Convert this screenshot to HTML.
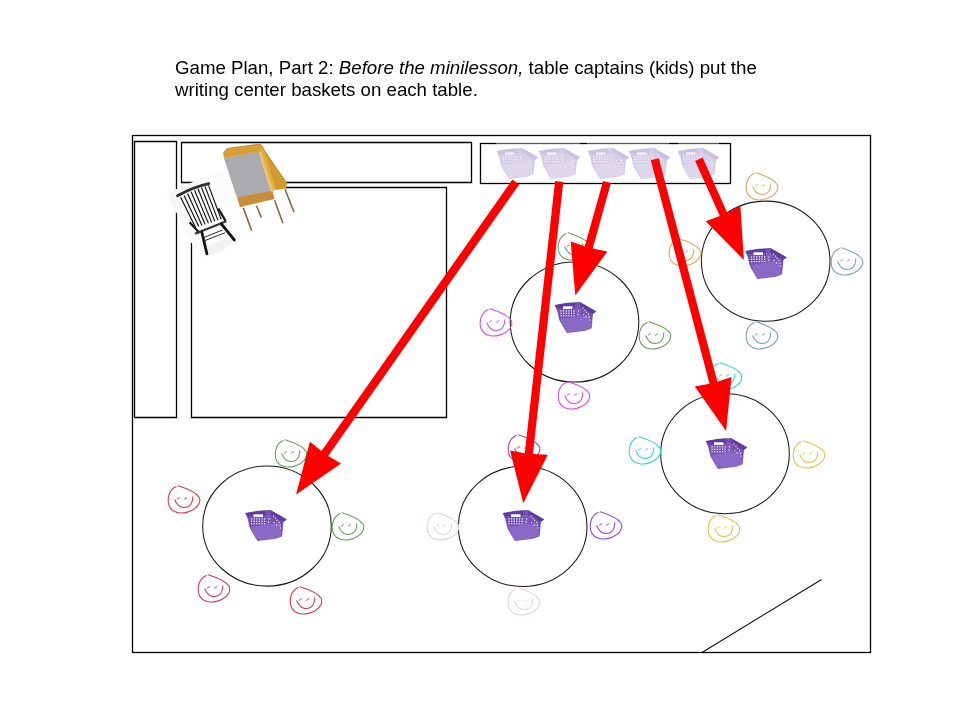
<!DOCTYPE html><html><head><meta charset="utf-8"><style>
html,body{margin:0;padding:0;background:#fff;width:960px;height:720px;overflow:hidden}
.t{position:absolute;will-change:transform;left:175px;top:56.5px;font-family:"Liberation Sans",sans-serif;font-size:18.67px;line-height:21.75px;color:#000;white-space:nowrap}
svg{position:absolute;left:0;top:0}
</style></head><body>
<div class="t">Game Plan, Part 2: <i>Before the minilesson,</i> table captains (kids) put the<br>writing center baskets on each table.</div>
<svg width="960" height="720" viewBox="0 0 960 720">
<g fill="none" stroke="#000" stroke-width="1.3">
<rect x="132.5" y="135.5" width="738" height="517"/>
<path d="M134.5,417.5 V141.5 H176.5 V189 M176.5,212 V417.5 H134.5"/>
<path d="M193,182.5 H181.5 V142.5 H471.5 V182.5 H286"/>
<path d="M191.5,242 V417.5 H446.5 V187.5 H286"/>
<rect x="480.5" y="143.5" width="250" height="40"/>
<line x1="702" y1="652.5" x2="821.5" y2="579.5" stroke="#111" stroke-width="1.1"/>
</g>
<g fill="none" stroke="#1a1a1a" stroke-width="1.05">
<ellipse cx="765.7" cy="261.2" rx="64.3" ry="60.1"/>
<ellipse cx="574.5" cy="322.0" rx="64.3" ry="60.1"/>
<ellipse cx="725.0" cy="453.6" rx="64.3" ry="60.1"/>
<ellipse cx="267.0" cy="526.0" rx="64.3" ry="60.1"/>
<ellipse cx="522.7" cy="526.4" rx="64.3" ry="60.1"/>
</g>
<g id="chair">
<defs><linearGradient id="cg" x1="0" y1="0" x2="1" y2="0.3"><stop offset="0" stop-color="#f2f2f2"/><stop offset="0.5" stop-color="#fbfbfb"/><stop offset="1" stop-color="#fff"/></linearGradient></defs><polygon fill="url(#cg)" points="166.8,193.4 233,164.3 264,228 200,260"/><ellipse cx="218" cy="247" rx="16" ry="5" fill="#f2f2f2" transform="rotate(-26 218 247)"/>
<path d="M177.5,195.8 Q193,187 208.8,183.6" stroke="#2e2e2e" stroke-width="2.8" fill="none" stroke-linecap="round"/>
<path d="M180.6,197.3 L195.6,227.5 M184.1,195.4 L198.8,226.5 M187.6,193.5 L202.0,225.5 M191.1,191.7 L205.2,224.5 M194.6,190.2 L208.4,223.4 M198.0,188.8 L211.6,222.4 M201.5,187.5 L214.8,221.4 M205.0,186.4 L218.0,220.4 M208.5,185.4 L221.2,219.4" stroke="#111" stroke-width="1.15" fill="none"/>
<path d="M189.6,222.3 L199.5,233 M218.3,208.5 L225.6,221" stroke="#1a1a1a" stroke-width="2.4" fill="none"/>
<path d="M195,233.8 L226.3,221.3" stroke="#333" stroke-width="2.2" fill="none"/>
<path d="M201.9,232.5 L206.9,253.8 M221.3,223.8 L234.4,240" stroke="#151515" stroke-width="2.8" fill="none" stroke-linecap="round"/>
<path d="M203.8,237.5 L222.5,230 M205,240.5 L225,232.8" stroke="#2a2a2a" stroke-width="1" fill="none"/>
</g>
<g id="easel">
<path d="M243.3,207.9 L251.7,230.8 M256.5,205.8 L261.4,217.6 M274.6,200.3 L282.9,223.2 M285,189.2 L294,212.1" stroke="#8a6a42" stroke-width="1.6" fill="none"/>
<polygon fill="#d49a2e" points="260,144 287.1,183.6 285.7,188.5 275.3,189.9 258.6,151.7"/>
<polygon fill="#e3ad3c" points="260,144 263,146 276,189.5 273,190 258.6,151.7"/>
<polygon fill="#a9abaf" points="223.9,157.9 258.6,151.7 271.1,191.9 237.1,198.2"/>
<polygon fill="#d99f34" points="223.2,153.1 227,148.5 260,144 261.4,151.7 223.9,157.9"/>
<polygon fill="#c98d38" points="237.1,197.5 272.5,190.6 274.6,198.9 239.9,207.2"/>
<polygon fill="#e8c070" points="258.6,151.7 261.4,151.7 274,191 271.1,191.9"/>
<path d="M223.2,153.1 L227,148.5 L260,144 L287.1,183.6" stroke="#b98226" stroke-width="0.8" fill="none"/>
</g>
<rect x="496" y="142" width="84" height="3" fill="#fff" fill-opacity="0.35"/>
<rect x="587" y="142" width="82" height="3" fill="#fff" fill-opacity="0.35"/>
<rect x="678.5" y="142" width="40.5" height="3" fill="#fff" fill-opacity="0.35"/>
<g transform="translate(497.0,148.0)"><polygon fill="#d6cee7" stroke="#c6bcdc" stroke-width="0.6" points="0.1,3.3 13.1,1.1 25.3,0.6 40.9,9.4 37.6,11.7 36.2,26.1 30.3,28.3 12,30.6 4.8,18.3 2.6,8.9"/><polygon fill="#ddd6ec" points="5,17 22,14.5 34,13 36.2,26.1 30.3,28.3 12,30.6"/><polygon fill="#cbc2df" points="0.1,3.3 13.1,1.1 25.3,0.6 40.9,9.4 37.6,11.7 25,5 3,6.5"/><polygon fill="#ddd6ec" opacity="0.5" points="20,1 25.3,0.6 26,15 21,16"/><rect x="8" y="4.3" width="9.5" height="2.6" fill="#f0edf7"/><rect x="5.5" y="8.3" width="1.2" height="1.2" fill="#f0edf7"/><rect x="8.1" y="8.3" width="1.2" height="1.2" fill="#f0edf7"/><rect x="10.7" y="8.3" width="1.2" height="1.2" fill="#f0edf7"/><rect x="13.3" y="8.3" width="1.2" height="1.2" fill="#f0edf7"/><rect x="15.9" y="8.3" width="1.2" height="1.2" fill="#f0edf7"/><rect x="18.5" y="8.3" width="1.2" height="1.2" fill="#f0edf7"/><rect x="5.5" y="10.7" width="1.2" height="1.2" fill="#f0edf7"/><rect x="8.1" y="10.7" width="1.2" height="1.2" fill="#f0edf7"/><rect x="10.7" y="10.7" width="1.2" height="1.2" fill="#f0edf7"/><rect x="13.3" y="10.7" width="1.2" height="1.2" fill="#f0edf7"/><rect x="15.9" y="10.7" width="1.2" height="1.2" fill="#f0edf7"/><rect x="18.5" y="10.7" width="1.2" height="1.2" fill="#f0edf7"/><rect x="5.5" y="13.1" width="1.2" height="1.2" fill="#f0edf7"/><rect x="8.1" y="13.1" width="1.2" height="1.2" fill="#f0edf7"/><rect x="10.7" y="13.1" width="1.2" height="1.2" fill="#f0edf7"/><rect x="13.3" y="13.1" width="1.2" height="1.2" fill="#f0edf7"/><rect x="15.9" y="13.1" width="1.2" height="1.2" fill="#f0edf7"/><rect x="18.5" y="13.1" width="1.2" height="1.2" fill="#f0edf7"/><rect x="27.5" y="5.5" width="1.1" height="1.1" fill="#f0edf7"/><rect x="29.5" y="7.5" width="1.1" height="1.1" fill="#f0edf7"/><rect x="31.0" y="9.8" width="1.1" height="1.1" fill="#f0edf7"/><rect x="33.0" y="11.8" width="1.1" height="1.1" fill="#f0edf7"/><rect x="34.0" y="14.5" width="1.1" height="1.1" fill="#f0edf7"/><rect x="34.5" y="17.5" width="1.1" height="1.1" fill="#f0edf7"/><rect x="30.5" y="14.5" width="1.1" height="1.1" fill="#f0edf7"/><rect x="28.0" y="12.0" width="1.1" height="1.1" fill="#f0edf7"/><rect x="23.0" y="8.5" width="1.1" height="1.1" fill="#f0edf7"/><rect x="22.5" y="11.5" width="1.1" height="1.1" fill="#f0edf7"/></g>
<g transform="translate(539.0,148.0)"><polygon fill="#d6cee7" stroke="#c6bcdc" stroke-width="0.6" points="0.1,3.3 13.1,1.1 25.3,0.6 40.9,9.4 37.6,11.7 36.2,26.1 30.3,28.3 12,30.6 4.8,18.3 2.6,8.9"/><polygon fill="#ddd6ec" points="5,17 22,14.5 34,13 36.2,26.1 30.3,28.3 12,30.6"/><polygon fill="#cbc2df" points="0.1,3.3 13.1,1.1 25.3,0.6 40.9,9.4 37.6,11.7 25,5 3,6.5"/><polygon fill="#ddd6ec" opacity="0.5" points="20,1 25.3,0.6 26,15 21,16"/><rect x="8" y="4.3" width="9.5" height="2.6" fill="#f0edf7"/><rect x="5.5" y="8.3" width="1.2" height="1.2" fill="#f0edf7"/><rect x="8.1" y="8.3" width="1.2" height="1.2" fill="#f0edf7"/><rect x="10.7" y="8.3" width="1.2" height="1.2" fill="#f0edf7"/><rect x="13.3" y="8.3" width="1.2" height="1.2" fill="#f0edf7"/><rect x="15.9" y="8.3" width="1.2" height="1.2" fill="#f0edf7"/><rect x="18.5" y="8.3" width="1.2" height="1.2" fill="#f0edf7"/><rect x="5.5" y="10.7" width="1.2" height="1.2" fill="#f0edf7"/><rect x="8.1" y="10.7" width="1.2" height="1.2" fill="#f0edf7"/><rect x="10.7" y="10.7" width="1.2" height="1.2" fill="#f0edf7"/><rect x="13.3" y="10.7" width="1.2" height="1.2" fill="#f0edf7"/><rect x="15.9" y="10.7" width="1.2" height="1.2" fill="#f0edf7"/><rect x="18.5" y="10.7" width="1.2" height="1.2" fill="#f0edf7"/><rect x="5.5" y="13.1" width="1.2" height="1.2" fill="#f0edf7"/><rect x="8.1" y="13.1" width="1.2" height="1.2" fill="#f0edf7"/><rect x="10.7" y="13.1" width="1.2" height="1.2" fill="#f0edf7"/><rect x="13.3" y="13.1" width="1.2" height="1.2" fill="#f0edf7"/><rect x="15.9" y="13.1" width="1.2" height="1.2" fill="#f0edf7"/><rect x="18.5" y="13.1" width="1.2" height="1.2" fill="#f0edf7"/><rect x="27.5" y="5.5" width="1.1" height="1.1" fill="#f0edf7"/><rect x="29.5" y="7.5" width="1.1" height="1.1" fill="#f0edf7"/><rect x="31.0" y="9.8" width="1.1" height="1.1" fill="#f0edf7"/><rect x="33.0" y="11.8" width="1.1" height="1.1" fill="#f0edf7"/><rect x="34.0" y="14.5" width="1.1" height="1.1" fill="#f0edf7"/><rect x="34.5" y="17.5" width="1.1" height="1.1" fill="#f0edf7"/><rect x="30.5" y="14.5" width="1.1" height="1.1" fill="#f0edf7"/><rect x="28.0" y="12.0" width="1.1" height="1.1" fill="#f0edf7"/><rect x="23.0" y="8.5" width="1.1" height="1.1" fill="#f0edf7"/><rect x="22.5" y="11.5" width="1.1" height="1.1" fill="#f0edf7"/></g>
<g transform="translate(588.0,148.0)"><polygon fill="#d6cee7" stroke="#c6bcdc" stroke-width="0.6" points="0.1,3.3 13.1,1.1 25.3,0.6 40.9,9.4 37.6,11.7 36.2,26.1 30.3,28.3 12,30.6 4.8,18.3 2.6,8.9"/><polygon fill="#ddd6ec" points="5,17 22,14.5 34,13 36.2,26.1 30.3,28.3 12,30.6"/><polygon fill="#cbc2df" points="0.1,3.3 13.1,1.1 25.3,0.6 40.9,9.4 37.6,11.7 25,5 3,6.5"/><polygon fill="#ddd6ec" opacity="0.5" points="20,1 25.3,0.6 26,15 21,16"/><rect x="8" y="4.3" width="9.5" height="2.6" fill="#f0edf7"/><rect x="5.5" y="8.3" width="1.2" height="1.2" fill="#f0edf7"/><rect x="8.1" y="8.3" width="1.2" height="1.2" fill="#f0edf7"/><rect x="10.7" y="8.3" width="1.2" height="1.2" fill="#f0edf7"/><rect x="13.3" y="8.3" width="1.2" height="1.2" fill="#f0edf7"/><rect x="15.9" y="8.3" width="1.2" height="1.2" fill="#f0edf7"/><rect x="18.5" y="8.3" width="1.2" height="1.2" fill="#f0edf7"/><rect x="5.5" y="10.7" width="1.2" height="1.2" fill="#f0edf7"/><rect x="8.1" y="10.7" width="1.2" height="1.2" fill="#f0edf7"/><rect x="10.7" y="10.7" width="1.2" height="1.2" fill="#f0edf7"/><rect x="13.3" y="10.7" width="1.2" height="1.2" fill="#f0edf7"/><rect x="15.9" y="10.7" width="1.2" height="1.2" fill="#f0edf7"/><rect x="18.5" y="10.7" width="1.2" height="1.2" fill="#f0edf7"/><rect x="5.5" y="13.1" width="1.2" height="1.2" fill="#f0edf7"/><rect x="8.1" y="13.1" width="1.2" height="1.2" fill="#f0edf7"/><rect x="10.7" y="13.1" width="1.2" height="1.2" fill="#f0edf7"/><rect x="13.3" y="13.1" width="1.2" height="1.2" fill="#f0edf7"/><rect x="15.9" y="13.1" width="1.2" height="1.2" fill="#f0edf7"/><rect x="18.5" y="13.1" width="1.2" height="1.2" fill="#f0edf7"/><rect x="27.5" y="5.5" width="1.1" height="1.1" fill="#f0edf7"/><rect x="29.5" y="7.5" width="1.1" height="1.1" fill="#f0edf7"/><rect x="31.0" y="9.8" width="1.1" height="1.1" fill="#f0edf7"/><rect x="33.0" y="11.8" width="1.1" height="1.1" fill="#f0edf7"/><rect x="34.0" y="14.5" width="1.1" height="1.1" fill="#f0edf7"/><rect x="34.5" y="17.5" width="1.1" height="1.1" fill="#f0edf7"/><rect x="30.5" y="14.5" width="1.1" height="1.1" fill="#f0edf7"/><rect x="28.0" y="12.0" width="1.1" height="1.1" fill="#f0edf7"/><rect x="23.0" y="8.5" width="1.1" height="1.1" fill="#f0edf7"/><rect x="22.5" y="11.5" width="1.1" height="1.1" fill="#f0edf7"/></g>
<g transform="translate(629.0,148.0)"><polygon fill="#d6cee7" stroke="#c6bcdc" stroke-width="0.6" points="0.1,3.3 13.1,1.1 25.3,0.6 40.9,9.4 37.6,11.7 36.2,26.1 30.3,28.3 12,30.6 4.8,18.3 2.6,8.9"/><polygon fill="#ddd6ec" points="5,17 22,14.5 34,13 36.2,26.1 30.3,28.3 12,30.6"/><polygon fill="#cbc2df" points="0.1,3.3 13.1,1.1 25.3,0.6 40.9,9.4 37.6,11.7 25,5 3,6.5"/><polygon fill="#ddd6ec" opacity="0.5" points="20,1 25.3,0.6 26,15 21,16"/><rect x="8" y="4.3" width="9.5" height="2.6" fill="#f0edf7"/><rect x="5.5" y="8.3" width="1.2" height="1.2" fill="#f0edf7"/><rect x="8.1" y="8.3" width="1.2" height="1.2" fill="#f0edf7"/><rect x="10.7" y="8.3" width="1.2" height="1.2" fill="#f0edf7"/><rect x="13.3" y="8.3" width="1.2" height="1.2" fill="#f0edf7"/><rect x="15.9" y="8.3" width="1.2" height="1.2" fill="#f0edf7"/><rect x="18.5" y="8.3" width="1.2" height="1.2" fill="#f0edf7"/><rect x="5.5" y="10.7" width="1.2" height="1.2" fill="#f0edf7"/><rect x="8.1" y="10.7" width="1.2" height="1.2" fill="#f0edf7"/><rect x="10.7" y="10.7" width="1.2" height="1.2" fill="#f0edf7"/><rect x="13.3" y="10.7" width="1.2" height="1.2" fill="#f0edf7"/><rect x="15.9" y="10.7" width="1.2" height="1.2" fill="#f0edf7"/><rect x="18.5" y="10.7" width="1.2" height="1.2" fill="#f0edf7"/><rect x="5.5" y="13.1" width="1.2" height="1.2" fill="#f0edf7"/><rect x="8.1" y="13.1" width="1.2" height="1.2" fill="#f0edf7"/><rect x="10.7" y="13.1" width="1.2" height="1.2" fill="#f0edf7"/><rect x="13.3" y="13.1" width="1.2" height="1.2" fill="#f0edf7"/><rect x="15.9" y="13.1" width="1.2" height="1.2" fill="#f0edf7"/><rect x="18.5" y="13.1" width="1.2" height="1.2" fill="#f0edf7"/><rect x="27.5" y="5.5" width="1.1" height="1.1" fill="#f0edf7"/><rect x="29.5" y="7.5" width="1.1" height="1.1" fill="#f0edf7"/><rect x="31.0" y="9.8" width="1.1" height="1.1" fill="#f0edf7"/><rect x="33.0" y="11.8" width="1.1" height="1.1" fill="#f0edf7"/><rect x="34.0" y="14.5" width="1.1" height="1.1" fill="#f0edf7"/><rect x="34.5" y="17.5" width="1.1" height="1.1" fill="#f0edf7"/><rect x="30.5" y="14.5" width="1.1" height="1.1" fill="#f0edf7"/><rect x="28.0" y="12.0" width="1.1" height="1.1" fill="#f0edf7"/><rect x="23.0" y="8.5" width="1.1" height="1.1" fill="#f0edf7"/><rect x="22.5" y="11.5" width="1.1" height="1.1" fill="#f0edf7"/></g>
<g transform="translate(678.0,148.0)"><polygon fill="#d6cee7" stroke="#c6bcdc" stroke-width="0.6" points="0.1,3.3 13.1,1.1 25.3,0.6 40.9,9.4 37.6,11.7 36.2,26.1 30.3,28.3 12,30.6 4.8,18.3 2.6,8.9"/><polygon fill="#ddd6ec" points="5,17 22,14.5 34,13 36.2,26.1 30.3,28.3 12,30.6"/><polygon fill="#cbc2df" points="0.1,3.3 13.1,1.1 25.3,0.6 40.9,9.4 37.6,11.7 25,5 3,6.5"/><polygon fill="#ddd6ec" opacity="0.5" points="20,1 25.3,0.6 26,15 21,16"/><rect x="8" y="4.3" width="9.5" height="2.6" fill="#f0edf7"/><rect x="5.5" y="8.3" width="1.2" height="1.2" fill="#f0edf7"/><rect x="8.1" y="8.3" width="1.2" height="1.2" fill="#f0edf7"/><rect x="10.7" y="8.3" width="1.2" height="1.2" fill="#f0edf7"/><rect x="13.3" y="8.3" width="1.2" height="1.2" fill="#f0edf7"/><rect x="15.9" y="8.3" width="1.2" height="1.2" fill="#f0edf7"/><rect x="18.5" y="8.3" width="1.2" height="1.2" fill="#f0edf7"/><rect x="5.5" y="10.7" width="1.2" height="1.2" fill="#f0edf7"/><rect x="8.1" y="10.7" width="1.2" height="1.2" fill="#f0edf7"/><rect x="10.7" y="10.7" width="1.2" height="1.2" fill="#f0edf7"/><rect x="13.3" y="10.7" width="1.2" height="1.2" fill="#f0edf7"/><rect x="15.9" y="10.7" width="1.2" height="1.2" fill="#f0edf7"/><rect x="18.5" y="10.7" width="1.2" height="1.2" fill="#f0edf7"/><rect x="5.5" y="13.1" width="1.2" height="1.2" fill="#f0edf7"/><rect x="8.1" y="13.1" width="1.2" height="1.2" fill="#f0edf7"/><rect x="10.7" y="13.1" width="1.2" height="1.2" fill="#f0edf7"/><rect x="13.3" y="13.1" width="1.2" height="1.2" fill="#f0edf7"/><rect x="15.9" y="13.1" width="1.2" height="1.2" fill="#f0edf7"/><rect x="18.5" y="13.1" width="1.2" height="1.2" fill="#f0edf7"/><rect x="27.5" y="5.5" width="1.1" height="1.1" fill="#f0edf7"/><rect x="29.5" y="7.5" width="1.1" height="1.1" fill="#f0edf7"/><rect x="31.0" y="9.8" width="1.1" height="1.1" fill="#f0edf7"/><rect x="33.0" y="11.8" width="1.1" height="1.1" fill="#f0edf7"/><rect x="34.0" y="14.5" width="1.1" height="1.1" fill="#f0edf7"/><rect x="34.5" y="17.5" width="1.1" height="1.1" fill="#f0edf7"/><rect x="30.5" y="14.5" width="1.1" height="1.1" fill="#f0edf7"/><rect x="28.0" y="12.0" width="1.1" height="1.1" fill="#f0edf7"/><rect x="23.0" y="8.5" width="1.1" height="1.1" fill="#f0edf7"/><rect x="22.5" y="11.5" width="1.1" height="1.1" fill="#f0edf7"/></g>
<g transform="translate(745.5,248.0)"><polygon fill="#7653b4" stroke="#5a3896" stroke-width="0.6" points="0.1,3.3 13.1,1.1 25.3,0.6 40.9,9.4 37.6,11.7 36.2,26.1 30.3,28.3 12,30.6 4.8,18.3 2.6,8.9"/><polygon fill="#8a69c6" points="5,17 22,14.5 34,13 36.2,26.1 30.3,28.3 12,30.6"/><polygon fill="#603c9e" points="0.1,3.3 13.1,1.1 25.3,0.6 40.9,9.4 37.6,11.7 25,5 3,6.5"/><polygon fill="#8a69c6" opacity="0.5" points="20,1 25.3,0.6 26,15 21,16"/><rect x="8" y="4.3" width="9.5" height="2.6" fill="#ffffff"/><rect x="5.5" y="8.3" width="1.2" height="1.2" fill="#ffffff"/><rect x="8.1" y="8.3" width="1.2" height="1.2" fill="#ffffff"/><rect x="10.7" y="8.3" width="1.2" height="1.2" fill="#ffffff"/><rect x="13.3" y="8.3" width="1.2" height="1.2" fill="#ffffff"/><rect x="15.9" y="8.3" width="1.2" height="1.2" fill="#ffffff"/><rect x="18.5" y="8.3" width="1.2" height="1.2" fill="#ffffff"/><rect x="5.5" y="10.7" width="1.2" height="1.2" fill="#ffffff"/><rect x="8.1" y="10.7" width="1.2" height="1.2" fill="#ffffff"/><rect x="10.7" y="10.7" width="1.2" height="1.2" fill="#ffffff"/><rect x="13.3" y="10.7" width="1.2" height="1.2" fill="#ffffff"/><rect x="15.9" y="10.7" width="1.2" height="1.2" fill="#ffffff"/><rect x="18.5" y="10.7" width="1.2" height="1.2" fill="#ffffff"/><rect x="5.5" y="13.1" width="1.2" height="1.2" fill="#ffffff"/><rect x="8.1" y="13.1" width="1.2" height="1.2" fill="#ffffff"/><rect x="10.7" y="13.1" width="1.2" height="1.2" fill="#ffffff"/><rect x="13.3" y="13.1" width="1.2" height="1.2" fill="#ffffff"/><rect x="15.9" y="13.1" width="1.2" height="1.2" fill="#ffffff"/><rect x="18.5" y="13.1" width="1.2" height="1.2" fill="#ffffff"/><rect x="27.5" y="5.5" width="1.1" height="1.1" fill="#ffffff"/><rect x="29.5" y="7.5" width="1.1" height="1.1" fill="#ffffff"/><rect x="31.0" y="9.8" width="1.1" height="1.1" fill="#ffffff"/><rect x="33.0" y="11.8" width="1.1" height="1.1" fill="#ffffff"/><rect x="34.0" y="14.5" width="1.1" height="1.1" fill="#ffffff"/><rect x="34.5" y="17.5" width="1.1" height="1.1" fill="#ffffff"/><rect x="30.5" y="14.5" width="1.1" height="1.1" fill="#ffffff"/><rect x="28.0" y="12.0" width="1.1" height="1.1" fill="#ffffff"/><rect x="23.0" y="8.5" width="1.1" height="1.1" fill="#ffffff"/><rect x="22.5" y="11.5" width="1.1" height="1.1" fill="#ffffff"/></g>
<g transform="translate(555.0,302.0)"><polygon fill="#7653b4" stroke="#5a3896" stroke-width="0.6" points="0.1,3.3 13.1,1.1 25.3,0.6 40.9,9.4 37.6,11.7 36.2,26.1 30.3,28.3 12,30.6 4.8,18.3 2.6,8.9"/><polygon fill="#8a69c6" points="5,17 22,14.5 34,13 36.2,26.1 30.3,28.3 12,30.6"/><polygon fill="#603c9e" points="0.1,3.3 13.1,1.1 25.3,0.6 40.9,9.4 37.6,11.7 25,5 3,6.5"/><polygon fill="#8a69c6" opacity="0.5" points="20,1 25.3,0.6 26,15 21,16"/><rect x="8" y="4.3" width="9.5" height="2.6" fill="#ffffff"/><rect x="5.5" y="8.3" width="1.2" height="1.2" fill="#ffffff"/><rect x="8.1" y="8.3" width="1.2" height="1.2" fill="#ffffff"/><rect x="10.7" y="8.3" width="1.2" height="1.2" fill="#ffffff"/><rect x="13.3" y="8.3" width="1.2" height="1.2" fill="#ffffff"/><rect x="15.9" y="8.3" width="1.2" height="1.2" fill="#ffffff"/><rect x="18.5" y="8.3" width="1.2" height="1.2" fill="#ffffff"/><rect x="5.5" y="10.7" width="1.2" height="1.2" fill="#ffffff"/><rect x="8.1" y="10.7" width="1.2" height="1.2" fill="#ffffff"/><rect x="10.7" y="10.7" width="1.2" height="1.2" fill="#ffffff"/><rect x="13.3" y="10.7" width="1.2" height="1.2" fill="#ffffff"/><rect x="15.9" y="10.7" width="1.2" height="1.2" fill="#ffffff"/><rect x="18.5" y="10.7" width="1.2" height="1.2" fill="#ffffff"/><rect x="5.5" y="13.1" width="1.2" height="1.2" fill="#ffffff"/><rect x="8.1" y="13.1" width="1.2" height="1.2" fill="#ffffff"/><rect x="10.7" y="13.1" width="1.2" height="1.2" fill="#ffffff"/><rect x="13.3" y="13.1" width="1.2" height="1.2" fill="#ffffff"/><rect x="15.9" y="13.1" width="1.2" height="1.2" fill="#ffffff"/><rect x="18.5" y="13.1" width="1.2" height="1.2" fill="#ffffff"/><rect x="27.5" y="5.5" width="1.1" height="1.1" fill="#ffffff"/><rect x="29.5" y="7.5" width="1.1" height="1.1" fill="#ffffff"/><rect x="31.0" y="9.8" width="1.1" height="1.1" fill="#ffffff"/><rect x="33.0" y="11.8" width="1.1" height="1.1" fill="#ffffff"/><rect x="34.0" y="14.5" width="1.1" height="1.1" fill="#ffffff"/><rect x="34.5" y="17.5" width="1.1" height="1.1" fill="#ffffff"/><rect x="30.5" y="14.5" width="1.1" height="1.1" fill="#ffffff"/><rect x="28.0" y="12.0" width="1.1" height="1.1" fill="#ffffff"/><rect x="23.0" y="8.5" width="1.1" height="1.1" fill="#ffffff"/><rect x="22.5" y="11.5" width="1.1" height="1.1" fill="#ffffff"/></g>
<g transform="translate(706.0,438.0)"><polygon fill="#7653b4" stroke="#5a3896" stroke-width="0.6" points="0.1,3.3 13.1,1.1 25.3,0.6 40.9,9.4 37.6,11.7 36.2,26.1 30.3,28.3 12,30.6 4.8,18.3 2.6,8.9"/><polygon fill="#8a69c6" points="5,17 22,14.5 34,13 36.2,26.1 30.3,28.3 12,30.6"/><polygon fill="#603c9e" points="0.1,3.3 13.1,1.1 25.3,0.6 40.9,9.4 37.6,11.7 25,5 3,6.5"/><polygon fill="#8a69c6" opacity="0.5" points="20,1 25.3,0.6 26,15 21,16"/><rect x="8" y="4.3" width="9.5" height="2.6" fill="#ffffff"/><rect x="5.5" y="8.3" width="1.2" height="1.2" fill="#ffffff"/><rect x="8.1" y="8.3" width="1.2" height="1.2" fill="#ffffff"/><rect x="10.7" y="8.3" width="1.2" height="1.2" fill="#ffffff"/><rect x="13.3" y="8.3" width="1.2" height="1.2" fill="#ffffff"/><rect x="15.9" y="8.3" width="1.2" height="1.2" fill="#ffffff"/><rect x="18.5" y="8.3" width="1.2" height="1.2" fill="#ffffff"/><rect x="5.5" y="10.7" width="1.2" height="1.2" fill="#ffffff"/><rect x="8.1" y="10.7" width="1.2" height="1.2" fill="#ffffff"/><rect x="10.7" y="10.7" width="1.2" height="1.2" fill="#ffffff"/><rect x="13.3" y="10.7" width="1.2" height="1.2" fill="#ffffff"/><rect x="15.9" y="10.7" width="1.2" height="1.2" fill="#ffffff"/><rect x="18.5" y="10.7" width="1.2" height="1.2" fill="#ffffff"/><rect x="5.5" y="13.1" width="1.2" height="1.2" fill="#ffffff"/><rect x="8.1" y="13.1" width="1.2" height="1.2" fill="#ffffff"/><rect x="10.7" y="13.1" width="1.2" height="1.2" fill="#ffffff"/><rect x="13.3" y="13.1" width="1.2" height="1.2" fill="#ffffff"/><rect x="15.9" y="13.1" width="1.2" height="1.2" fill="#ffffff"/><rect x="18.5" y="13.1" width="1.2" height="1.2" fill="#ffffff"/><rect x="27.5" y="5.5" width="1.1" height="1.1" fill="#ffffff"/><rect x="29.5" y="7.5" width="1.1" height="1.1" fill="#ffffff"/><rect x="31.0" y="9.8" width="1.1" height="1.1" fill="#ffffff"/><rect x="33.0" y="11.8" width="1.1" height="1.1" fill="#ffffff"/><rect x="34.0" y="14.5" width="1.1" height="1.1" fill="#ffffff"/><rect x="34.5" y="17.5" width="1.1" height="1.1" fill="#ffffff"/><rect x="30.5" y="14.5" width="1.1" height="1.1" fill="#ffffff"/><rect x="28.0" y="12.0" width="1.1" height="1.1" fill="#ffffff"/><rect x="23.0" y="8.5" width="1.1" height="1.1" fill="#ffffff"/><rect x="22.5" y="11.5" width="1.1" height="1.1" fill="#ffffff"/></g>
<g transform="translate(245.5,510.0)"><polygon fill="#7653b4" stroke="#5a3896" stroke-width="0.6" points="0.1,3.3 13.1,1.1 25.3,0.6 40.9,9.4 37.6,11.7 36.2,26.1 30.3,28.3 12,30.6 4.8,18.3 2.6,8.9"/><polygon fill="#8a69c6" points="5,17 22,14.5 34,13 36.2,26.1 30.3,28.3 12,30.6"/><polygon fill="#603c9e" points="0.1,3.3 13.1,1.1 25.3,0.6 40.9,9.4 37.6,11.7 25,5 3,6.5"/><polygon fill="#8a69c6" opacity="0.5" points="20,1 25.3,0.6 26,15 21,16"/><rect x="8" y="4.3" width="9.5" height="2.6" fill="#ffffff"/><rect x="5.5" y="8.3" width="1.2" height="1.2" fill="#ffffff"/><rect x="8.1" y="8.3" width="1.2" height="1.2" fill="#ffffff"/><rect x="10.7" y="8.3" width="1.2" height="1.2" fill="#ffffff"/><rect x="13.3" y="8.3" width="1.2" height="1.2" fill="#ffffff"/><rect x="15.9" y="8.3" width="1.2" height="1.2" fill="#ffffff"/><rect x="18.5" y="8.3" width="1.2" height="1.2" fill="#ffffff"/><rect x="5.5" y="10.7" width="1.2" height="1.2" fill="#ffffff"/><rect x="8.1" y="10.7" width="1.2" height="1.2" fill="#ffffff"/><rect x="10.7" y="10.7" width="1.2" height="1.2" fill="#ffffff"/><rect x="13.3" y="10.7" width="1.2" height="1.2" fill="#ffffff"/><rect x="15.9" y="10.7" width="1.2" height="1.2" fill="#ffffff"/><rect x="18.5" y="10.7" width="1.2" height="1.2" fill="#ffffff"/><rect x="5.5" y="13.1" width="1.2" height="1.2" fill="#ffffff"/><rect x="8.1" y="13.1" width="1.2" height="1.2" fill="#ffffff"/><rect x="10.7" y="13.1" width="1.2" height="1.2" fill="#ffffff"/><rect x="13.3" y="13.1" width="1.2" height="1.2" fill="#ffffff"/><rect x="15.9" y="13.1" width="1.2" height="1.2" fill="#ffffff"/><rect x="18.5" y="13.1" width="1.2" height="1.2" fill="#ffffff"/><rect x="27.5" y="5.5" width="1.1" height="1.1" fill="#ffffff"/><rect x="29.5" y="7.5" width="1.1" height="1.1" fill="#ffffff"/><rect x="31.0" y="9.8" width="1.1" height="1.1" fill="#ffffff"/><rect x="33.0" y="11.8" width="1.1" height="1.1" fill="#ffffff"/><rect x="34.0" y="14.5" width="1.1" height="1.1" fill="#ffffff"/><rect x="34.5" y="17.5" width="1.1" height="1.1" fill="#ffffff"/><rect x="30.5" y="14.5" width="1.1" height="1.1" fill="#ffffff"/><rect x="28.0" y="12.0" width="1.1" height="1.1" fill="#ffffff"/><rect x="23.0" y="8.5" width="1.1" height="1.1" fill="#ffffff"/><rect x="22.5" y="11.5" width="1.1" height="1.1" fill="#ffffff"/></g>
<g transform="translate(503.0,510.0)"><polygon fill="#7653b4" stroke="#5a3896" stroke-width="0.6" points="0.1,3.3 13.1,1.1 25.3,0.6 40.9,9.4 37.6,11.7 36.2,26.1 30.3,28.3 12,30.6 4.8,18.3 2.6,8.9"/><polygon fill="#8a69c6" points="5,17 22,14.5 34,13 36.2,26.1 30.3,28.3 12,30.6"/><polygon fill="#603c9e" points="0.1,3.3 13.1,1.1 25.3,0.6 40.9,9.4 37.6,11.7 25,5 3,6.5"/><polygon fill="#8a69c6" opacity="0.5" points="20,1 25.3,0.6 26,15 21,16"/><rect x="8" y="4.3" width="9.5" height="2.6" fill="#ffffff"/><rect x="5.5" y="8.3" width="1.2" height="1.2" fill="#ffffff"/><rect x="8.1" y="8.3" width="1.2" height="1.2" fill="#ffffff"/><rect x="10.7" y="8.3" width="1.2" height="1.2" fill="#ffffff"/><rect x="13.3" y="8.3" width="1.2" height="1.2" fill="#ffffff"/><rect x="15.9" y="8.3" width="1.2" height="1.2" fill="#ffffff"/><rect x="18.5" y="8.3" width="1.2" height="1.2" fill="#ffffff"/><rect x="5.5" y="10.7" width="1.2" height="1.2" fill="#ffffff"/><rect x="8.1" y="10.7" width="1.2" height="1.2" fill="#ffffff"/><rect x="10.7" y="10.7" width="1.2" height="1.2" fill="#ffffff"/><rect x="13.3" y="10.7" width="1.2" height="1.2" fill="#ffffff"/><rect x="15.9" y="10.7" width="1.2" height="1.2" fill="#ffffff"/><rect x="18.5" y="10.7" width="1.2" height="1.2" fill="#ffffff"/><rect x="5.5" y="13.1" width="1.2" height="1.2" fill="#ffffff"/><rect x="8.1" y="13.1" width="1.2" height="1.2" fill="#ffffff"/><rect x="10.7" y="13.1" width="1.2" height="1.2" fill="#ffffff"/><rect x="13.3" y="13.1" width="1.2" height="1.2" fill="#ffffff"/><rect x="15.9" y="13.1" width="1.2" height="1.2" fill="#ffffff"/><rect x="18.5" y="13.1" width="1.2" height="1.2" fill="#ffffff"/><rect x="27.5" y="5.5" width="1.1" height="1.1" fill="#ffffff"/><rect x="29.5" y="7.5" width="1.1" height="1.1" fill="#ffffff"/><rect x="31.0" y="9.8" width="1.1" height="1.1" fill="#ffffff"/><rect x="33.0" y="11.8" width="1.1" height="1.1" fill="#ffffff"/><rect x="34.0" y="14.5" width="1.1" height="1.1" fill="#ffffff"/><rect x="34.5" y="17.5" width="1.1" height="1.1" fill="#ffffff"/><rect x="30.5" y="14.5" width="1.1" height="1.1" fill="#ffffff"/><rect x="28.0" y="12.0" width="1.1" height="1.1" fill="#ffffff"/><rect x="23.0" y="8.5" width="1.1" height="1.1" fill="#ffffff"/><rect x="22.5" y="11.5" width="1.1" height="1.1" fill="#ffffff"/></g>
<g transform="translate(745.8,172.2)" stroke="#d6a768" stroke-width="1.1" stroke-linecap="round"><path d="M10.3,0.6 C18,3 28,7 31.3,12 C33.3,16 31,21 26,24 C21,27 16,28 12,27.8 C6,27 2,24 0.8,19 C-0.5,13 1.5,7 4,4.5 C5.5,3 7,2 8.4,1.4" fill="none"/><path d="M9.6,13.9 L11.6,12.5 M16.8,13.9 L18.8,12.5" fill="none" stroke-opacity="0.8"/><path d="M7,14.6 C9,19.5 12,22 15,22.2 C19,22.5 22,21 23.6,18 C25,15 25.1,13 25,11.6" fill="none"/></g>
<g transform="translate(668.8,238.2)" stroke="#d6a768" stroke-width="1.1" stroke-linecap="round"><path d="M10.3,0.6 C18,3 28,7 31.3,12 C33.3,16 31,21 26,24 C21,27 16,28 12,27.8 C6,27 2,24 0.8,19 C-0.5,13 1.5,7 4,4.5 C5.5,3 7,2 8.4,1.4" fill="none"/><path d="M9.6,13.9 L11.6,12.5 M16.8,13.9 L18.8,12.5" fill="none" stroke-opacity="0.8"/><path d="M7,14.6 C9,19.5 12,22 15,22.2 C19,22.5 22,21 23.6,18 C25,15 25.1,13 25,11.6" fill="none"/></g>
<g transform="translate(830.8,247.2)" stroke="#7f9fc4" stroke-width="1.1" stroke-linecap="round"><path d="M10.3,0.6 C18,3 28,7 31.3,12 C33.3,16 31,21 26,24 C21,27 16,28 12,27.8 C6,27 2,24 0.8,19 C-0.5,13 1.5,7 4,4.5 C5.5,3 7,2 8.4,1.4" fill="none"/><path d="M9.6,13.9 L11.6,12.5 M16.8,13.9 L18.8,12.5" fill="none" stroke-opacity="0.8"/><path d="M7,14.6 C9,19.5 12,22 15,22.2 C19,22.5 22,21 23.6,18 C25,15 25.1,13 25,11.6" fill="none"/></g>
<g transform="translate(745.8,321.2)" stroke="#7f9fc4" stroke-width="1.1" stroke-linecap="round"><path d="M10.3,0.6 C18,3 28,7 31.3,12 C33.3,16 31,21 26,24 C21,27 16,28 12,27.8 C6,27 2,24 0.8,19 C-0.5,13 1.5,7 4,4.5 C5.5,3 7,2 8.4,1.4" fill="none"/><path d="M9.6,13.9 L11.6,12.5 M16.8,13.9 L18.8,12.5" fill="none" stroke-opacity="0.8"/><path d="M7,14.6 C9,19.5 12,22 15,22.2 C19,22.5 22,21 23.6,18 C25,15 25.1,13 25,11.6" fill="none"/></g>
<g transform="translate(557.8,232.2)" stroke="#6f9d62" stroke-width="1.1" stroke-linecap="round"><path d="M10.3,0.6 C18,3 28,7 31.3,12 C33.3,16 31,21 26,24 C21,27 16,28 12,27.8 C6,27 2,24 0.8,19 C-0.5,13 1.5,7 4,4.5 C5.5,3 7,2 8.4,1.4" fill="none"/><path d="M9.6,13.9 L11.6,12.5 M16.8,13.9 L18.8,12.5" fill="none" stroke-opacity="0.8"/><path d="M7,14.6 C9,19.5 12,22 15,22.2 C19,22.5 22,21 23.6,18 C25,15 25.1,13 25,11.6" fill="none"/></g>
<g transform="translate(479.8,308.2)" stroke="#e04ae0" stroke-width="1.1" stroke-linecap="round"><path d="M10.3,0.6 C18,3 28,7 31.3,12 C33.3,16 31,21 26,24 C21,27 16,28 12,27.8 C6,27 2,24 0.8,19 C-0.5,13 1.5,7 4,4.5 C5.5,3 7,2 8.4,1.4" fill="none"/><path d="M9.6,13.9 L11.6,12.5 M16.8,13.9 L18.8,12.5" fill="none" stroke-opacity="0.8"/><path d="M7,14.6 C9,19.5 12,22 15,22.2 C19,22.5 22,21 23.6,18 C25,15 25.1,13 25,11.6" fill="none"/></g>
<g transform="translate(638.8,321.2)" stroke="#6f9d62" stroke-width="1.1" stroke-linecap="round"><path d="M10.3,0.6 C18,3 28,7 31.3,12 C33.3,16 31,21 26,24 C21,27 16,28 12,27.8 C6,27 2,24 0.8,19 C-0.5,13 1.5,7 4,4.5 C5.5,3 7,2 8.4,1.4" fill="none"/><path d="M9.6,13.9 L11.6,12.5 M16.8,13.9 L18.8,12.5" fill="none" stroke-opacity="0.8"/><path d="M7,14.6 C9,19.5 12,22 15,22.2 C19,22.5 22,21 23.6,18 C25,15 25.1,13 25,11.6" fill="none"/></g>
<g transform="translate(557.8,381.2)" stroke="#e04ae0" stroke-width="1.1" stroke-linecap="round"><path d="M10.3,0.6 C18,3 28,7 31.3,12 C33.3,16 31,21 26,24 C21,27 16,28 12,27.8 C6,27 2,24 0.8,19 C-0.5,13 1.5,7 4,4.5 C5.5,3 7,2 8.4,1.4" fill="none"/><path d="M9.6,13.9 L11.6,12.5 M16.8,13.9 L18.8,12.5" fill="none" stroke-opacity="0.8"/><path d="M7,14.6 C9,19.5 12,22 15,22.2 C19,22.5 22,21 23.6,18 C25,15 25.1,13 25,11.6" fill="none"/></g>
<g transform="translate(709.8,362.2)" stroke="#2fd6e4" stroke-width="1.1" stroke-linecap="round"><path d="M10.3,0.6 C18,3 28,7 31.3,12 C33.3,16 31,21 26,24 C21,27 16,28 12,27.8 C6,27 2,24 0.8,19 C-0.5,13 1.5,7 4,4.5 C5.5,3 7,2 8.4,1.4" fill="none"/><path d="M9.6,13.9 L11.6,12.5 M16.8,13.9 L18.8,12.5" fill="none" stroke-opacity="0.8"/><path d="M7,14.6 C9,19.5 12,22 15,22.2 C19,22.5 22,21 23.6,18 C25,15 25.1,13 25,11.6" fill="none"/></g>
<g transform="translate(628.8,436.2)" stroke="#2fd6e4" stroke-width="1.1" stroke-linecap="round"><path d="M10.3,0.6 C18,3 28,7 31.3,12 C33.3,16 31,21 26,24 C21,27 16,28 12,27.8 C6,27 2,24 0.8,19 C-0.5,13 1.5,7 4,4.5 C5.5,3 7,2 8.4,1.4" fill="none"/><path d="M9.6,13.9 L11.6,12.5 M16.8,13.9 L18.8,12.5" fill="none" stroke-opacity="0.8"/><path d="M7,14.6 C9,19.5 12,22 15,22.2 C19,22.5 22,21 23.6,18 C25,15 25.1,13 25,11.6" fill="none"/></g>
<g transform="translate(792.8,440.2)" stroke="#e2c24a" stroke-width="1.1" stroke-linecap="round"><path d="M10.3,0.6 C18,3 28,7 31.3,12 C33.3,16 31,21 26,24 C21,27 16,28 12,27.8 C6,27 2,24 0.8,19 C-0.5,13 1.5,7 4,4.5 C5.5,3 7,2 8.4,1.4" fill="none"/><path d="M9.6,13.9 L11.6,12.5 M16.8,13.9 L18.8,12.5" fill="none" stroke-opacity="0.8"/><path d="M7,14.6 C9,19.5 12,22 15,22.2 C19,22.5 22,21 23.6,18 C25,15 25.1,13 25,11.6" fill="none"/></g>
<g transform="translate(707.8,514.2)" stroke="#e2c24a" stroke-width="1.1" stroke-linecap="round"><path d="M10.3,0.6 C18,3 28,7 31.3,12 C33.3,16 31,21 26,24 C21,27 16,28 12,27.8 C6,27 2,24 0.8,19 C-0.5,13 1.5,7 4,4.5 C5.5,3 7,2 8.4,1.4" fill="none"/><path d="M9.6,13.9 L11.6,12.5 M16.8,13.9 L18.8,12.5" fill="none" stroke-opacity="0.8"/><path d="M7,14.6 C9,19.5 12,22 15,22.2 C19,22.5 22,21 23.6,18 C25,15 25.1,13 25,11.6" fill="none"/></g>
<g transform="translate(274.8,439.2)" stroke="#6f9d62" stroke-width="1.1" stroke-linecap="round"><path d="M10.3,0.6 C18,3 28,7 31.3,12 C33.3,16 31,21 26,24 C21,27 16,28 12,27.8 C6,27 2,24 0.8,19 C-0.5,13 1.5,7 4,4.5 C5.5,3 7,2 8.4,1.4" fill="none"/><path d="M9.6,13.9 L11.6,12.5 M16.8,13.9 L18.8,12.5" fill="none" stroke-opacity="0.8"/><path d="M7,14.6 C9,19.5 12,22 15,22.2 C19,22.5 22,21 23.6,18 C25,15 25.1,13 25,11.6" fill="none"/></g>
<g transform="translate(167.8,485.2)" stroke="#d83a4a" stroke-width="1.1" stroke-linecap="round"><path d="M10.3,0.6 C18,3 28,7 31.3,12 C33.3,16 31,21 26,24 C21,27 16,28 12,27.8 C6,27 2,24 0.8,19 C-0.5,13 1.5,7 4,4.5 C5.5,3 7,2 8.4,1.4" fill="none"/><path d="M9.6,13.9 L11.6,12.5 M16.8,13.9 L18.8,12.5" fill="none" stroke-opacity="0.8"/><path d="M7,14.6 C9,19.5 12,22 15,22.2 C19,22.5 22,21 23.6,18 C25,15 25.1,13 25,11.6" fill="none"/></g>
<g transform="translate(331.8,512.2)" stroke="#6f9d62" stroke-width="1.1" stroke-linecap="round"><path d="M10.3,0.6 C18,3 28,7 31.3,12 C33.3,16 31,21 26,24 C21,27 16,28 12,27.8 C6,27 2,24 0.8,19 C-0.5,13 1.5,7 4,4.5 C5.5,3 7,2 8.4,1.4" fill="none"/><path d="M9.6,13.9 L11.6,12.5 M16.8,13.9 L18.8,12.5" fill="none" stroke-opacity="0.8"/><path d="M7,14.6 C9,19.5 12,22 15,22.2 C19,22.5 22,21 23.6,18 C25,15 25.1,13 25,11.6" fill="none"/></g>
<g transform="translate(197.8,574.2)" stroke="#d83a4a" stroke-width="1.1" stroke-linecap="round"><path d="M10.3,0.6 C18,3 28,7 31.3,12 C33.3,16 31,21 26,24 C21,27 16,28 12,27.8 C6,27 2,24 0.8,19 C-0.5,13 1.5,7 4,4.5 C5.5,3 7,2 8.4,1.4" fill="none"/><path d="M9.6,13.9 L11.6,12.5 M16.8,13.9 L18.8,12.5" fill="none" stroke-opacity="0.8"/><path d="M7,14.6 C9,19.5 12,22 15,22.2 C19,22.5 22,21 23.6,18 C25,15 25.1,13 25,11.6" fill="none"/></g>
<g transform="translate(289.8,586.2)" stroke="#d83a4a" stroke-width="1.1" stroke-linecap="round"><path d="M10.3,0.6 C18,3 28,7 31.3,12 C33.3,16 31,21 26,24 C21,27 16,28 12,27.8 C6,27 2,24 0.8,19 C-0.5,13 1.5,7 4,4.5 C5.5,3 7,2 8.4,1.4" fill="none"/><path d="M9.6,13.9 L11.6,12.5 M16.8,13.9 L18.8,12.5" fill="none" stroke-opacity="0.8"/><path d="M7,14.6 C9,19.5 12,22 15,22.2 C19,22.5 22,21 23.6,18 C25,15 25.1,13 25,11.6" fill="none"/></g>
<g transform="translate(507.8,434.2)" stroke="#8a4ae0" stroke-width="1.1" stroke-linecap="round"><path d="M10.3,0.6 C18,3 28,7 31.3,12 C33.3,16 31,21 26,24 C21,27 16,28 12,27.8 C6,27 2,24 0.8,19 C-0.5,13 1.5,7 4,4.5 C5.5,3 7,2 8.4,1.4" fill="none"/><path d="M9.6,13.9 L11.6,12.5 M16.8,13.9 L18.8,12.5" fill="none" stroke-opacity="0.8"/><path d="M7,14.6 C9,19.5 12,22 15,22.2 C19,22.5 22,21 23.6,18 C25,15 25.1,13 25,11.6" fill="none"/></g>
<g transform="translate(426.8,512.2)" stroke="#e9d2d2" stroke-width="1.1" stroke-linecap="round"><path d="M10.3,0.6 C18,3 28,7 31.3,12 C33.3,16 31,21 26,24 C21,27 16,28 12,27.8 C6,27 2,24 0.8,19 C-0.5,13 1.5,7 4,4.5 C5.5,3 7,2 8.4,1.4" fill="none"/><path d="M9.6,13.9 L11.6,12.5 M16.8,13.9 L18.8,12.5" fill="none" stroke-opacity="0.8"/><path d="M7,14.6 C9,19.5 12,22 15,22.2 C19,22.5 22,21 23.6,18 C25,15 25.1,13 25,11.6" fill="none"/></g>
<g transform="translate(589.8,511.2)" stroke="#8a4ae0" stroke-width="1.1" stroke-linecap="round"><path d="M10.3,0.6 C18,3 28,7 31.3,12 C33.3,16 31,21 26,24 C21,27 16,28 12,27.8 C6,27 2,24 0.8,19 C-0.5,13 1.5,7 4,4.5 C5.5,3 7,2 8.4,1.4" fill="none"/><path d="M9.6,13.9 L11.6,12.5 M16.8,13.9 L18.8,12.5" fill="none" stroke-opacity="0.8"/><path d="M7,14.6 C9,19.5 12,22 15,22.2 C19,22.5 22,21 23.6,18 C25,15 25.1,13 25,11.6" fill="none"/></g>
<g transform="translate(507.8,587.2)" stroke="#e9d2d2" stroke-width="1.1" stroke-linecap="round"><path d="M10.3,0.6 C18,3 28,7 31.3,12 C33.3,16 31,21 26,24 C21,27 16,28 12,27.8 C6,27 2,24 0.8,19 C-0.5,13 1.5,7 4,4.5 C5.5,3 7,2 8.4,1.4" fill="none"/><path d="M9.6,13.9 L11.6,12.5 M16.8,13.9 L18.8,12.5" fill="none" stroke-opacity="0.8"/><path d="M7,14.6 C9,19.5 12,22 15,22.2 C19,22.5 22,21 23.6,18 C25,15 25.1,13 25,11.6" fill="none"/></g>
<polygon fill="#ff0000" points="512.4,179.6 321.5,451.1 309.9,441.8 296.1,494.4 341.0,463.6 328.2,455.9 519.2,184.4"/>
<polygon fill="#ff0000" points="555.1,181.0 524.8,453.2 510.1,450.5 523.3,503.3 547.8,454.7 532.9,454.1 563.3,182.0"/>
<polygon fill="#ff0000" points="603.1,180.9 584.8,246.3 570.7,241.4 575.3,295.6 607.3,251.6 592.7,248.5 610.9,183.1"/>
<polygon fill="#ff0000" points="650.8,160.2 709.5,383.8 694.8,386.6 726.1,431.1 731.5,376.9 717.4,381.7 658.8,158.2"/>
<polygon fill="#ff0000" points="695.2,161.0 719.8,216.0 705.7,221.2 743.9,260.0 740.4,205.7 727.2,212.7 702.6,157.6"/>
</svg></body></html>
